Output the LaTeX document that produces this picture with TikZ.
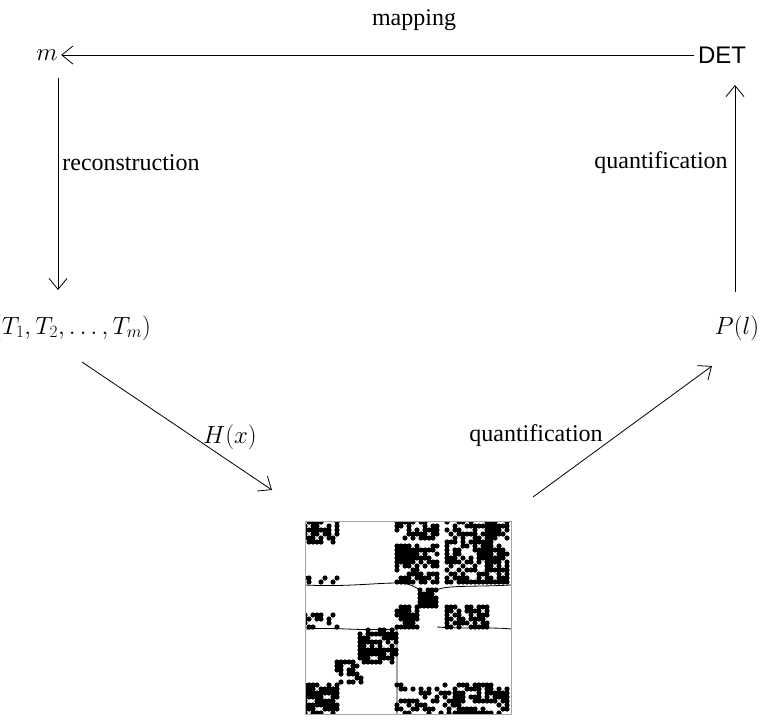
\documentclass[tikz,border=0pt]{standalone}
\usepackage{fontspec}
\setmainfont{Liberation Serif}
\newfontfamily\detfont{Liberation Sans}
\usetikzlibrary{arrows.meta}
\begin{document}
\begin{tikzpicture}[x=1pt,y=-1pt,
  lbl/.style={font=\fontsize{24}{28}\selectfont},
  arr/.style={-{Straight Barb[length=11pt,width=18pt]},line width=0.8pt}]
\useasboundingbox (0,0) rectangle (772,724);
\node[lbl] (m) at (47,55) {$m$};
\node[lbl] (det) at (722,55) {\detfont DET};
\node[lbl] (t) at (72,328) {$(T_1,T_2,\ldots,T_m)$};
\node[lbl] (p) at (737,328) {$P(l)$};
\coordinate (rpin) at (272,490);
\coordinate (rpout) at (533,497);
\draw[arr] (det.west) -- (m.east);
\node[lbl] (lmap) at (414,20) {mapping};
\draw[arr] (58,78) -- (58,290);
\node[lbl] (lrec) at (131,163) {reconstruction};
\draw[arr] (735,292) -- (735,85);
\node[lbl] (lq1) at (661,163) {quantification};
\draw[arr] (82,362) -- (rpin);
\node[lbl] (lh) at (230,437) {$H(x)$};
\draw[arr] (rpout) -- (712,366);
\node[lbl] (lq2) at (536,436) {quantification};
% recurrence plot
\begin{scope}[shift={(305,521)}]
\pgfmathsetseed{7}
\foreach \xa/\xb/\ya/\yb/\pr in {0/32/1/21/0.65, 0/35/57/64/0.55, 92/135/1/20/0.5, 92/135/25/61/0.7,
  142/205/1/64/0.65, 115/132/69/86/0.9, 92/115/86/106/0.7, 142/182/86/106/0.7,
  0/32/94/107/0.45, 55/92/109/141/0.75, 32/58/141/161/0.55, 0/32/164/193/0.75,
  92/150/164/193/0.4, 150/205/164/193/0.65}{
  \pgfmathtruncatemacro{\nx}{(\xb-\xa)/4}
  \pgfmathtruncatemacro{\ny}{(\yb-\ya)/4}
  \foreach \i in {0,...,\nx}{
    \foreach \j in {0,...,\ny}{
      \pgfmathsetmacro{\r}{rnd}
      \ifdim\r pt<\pr pt
        \fill[black] (\xa+4*\i,\ya+4*\j) circle (2.6);
      \fi
    }
  }
}
\draw[black,line width=0.8pt] (0,64) .. controls (40,66) and (70,62) .. (92,62) .. controls (105,62) and (110,66) .. (115,69);
\draw[black,line width=0.8pt] (132,69) .. controls (140,64) and (170,66) .. (206,64);
\draw[black,line width=0.8pt] (0,108) .. controls (30,106) and (50,110) .. (92,108) -- (92,193);
\draw[black,line width=0.8pt] (132,106) .. controls (160,108) and (190,106) .. (206,108);
\fill[white] (-4,-4) rectangle (0,198);
\fill[white] (206,-4) rectangle (210,198);
\fill[white] (-4,-4) rectangle (210,0);
\fill[white] (-4,193) rectangle (210,198);
\draw[gray!70,line width=0.8pt] (0,0) rectangle (206,193);
\end{scope}
\end{tikzpicture}
\end{document}
